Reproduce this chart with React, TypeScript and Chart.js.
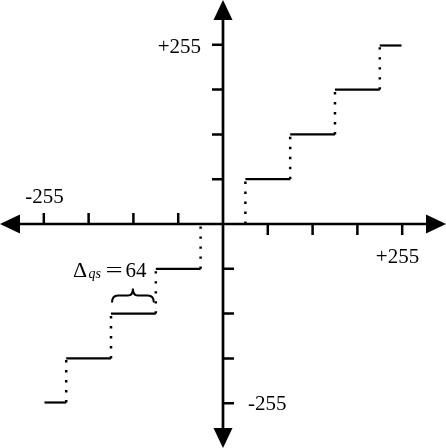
import React, { useEffect, useRef } from "react"
import { Chart, ChartConfiguration, Plugin, registerables } from "chart.js"

Chart.register(...registerables)

// quantizer: input edges and the output level held between two edges
const stepEdges = [-255, -224, -160, -96, -32, 32, 96, 160, 224, 255]
const stepLevels = [-255, -192, -128, -64, 0, 64, 128, 192, 255]
const tickValues = [-256, -192, -128, -64, 64, 128, 192, 256]
const axisLimit = 255
const deltaQs = 64
const braceStep = 2 // index of the step that gets the brace

const stepPoints: { x: number; y: number }[] = []
stepLevels.forEach((level, i) => {
	stepPoints.push({ x: stepEdges[i], y: level })
	stepPoints.push({ x: stepEdges[i + 1], y: level })
})

const FONT = "'Liberation Serif', 'Times New Roman', serif"

function arrowHead(ctx: CanvasRenderingContext2D, tipX: number, tipY: number, dx: number, dy: number) {
	const len = 20
	const half = 9.5
	const bx = tipX - dx * len
	const by = tipY - dy * len
	ctx.beginPath()
	ctx.moveTo(tipX, tipY)
	ctx.lineTo(bx - dy * half, by + dx * half)
	ctx.lineTo(bx + dy * half, by - dx * half)
	ctx.closePath()
	ctx.fill()
}

const axesPlugin: Plugin = {
	id: "quantAxes",
	beforeDatasetsDraw(chart) {
		const { ctx, chartArea, scales } = chart
		const x0 = scales.x.getPixelForValue(0)
		const y0 = scales.y.getPixelForValue(0)
		ctx.save()
		ctx.strokeStyle = "#000"
		ctx.fillStyle = "#000"
		ctx.lineWidth = 2.7

		// axis lines
		ctx.beginPath()
		ctx.moveTo(chartArea.left + 18, y0)
		ctx.lineTo(chartArea.right - 18, y0)
		ctx.moveTo(x0, chartArea.top + 18)
		ctx.lineTo(x0, chartArea.bottom - 18)
		ctx.stroke()

		arrowHead(ctx, chartArea.left, y0, -1, 0)
		arrowHead(ctx, chartArea.right, y0, 1, 0)
		arrowHead(ctx, x0, chartArea.top, 0, -1)
		arrowHead(ctx, x0, chartArea.bottom, 0, 1)

		// ticks sit on the side away from the staircase
		ctx.lineWidth = 2.5
		ctx.beginPath()
		tickValues.forEach((v) => {
			const px = scales.x.getPixelForValue(v)
			ctx.moveTo(px, y0)
			ctx.lineTo(px, v > 0 ? y0 + 11 : y0 - 11)
			const py = scales.y.getPixelForValue(v)
			ctx.moveTo(x0, py)
			ctx.lineTo(v > 0 ? x0 - 11 : x0 + 11, py)
		})
		ctx.stroke()
		ctx.restore()
	},
	afterDatasetsDraw(chart) {
		const { ctx, scales } = chart
		const x0 = scales.x.getPixelForValue(0)
		const y0 = scales.y.getPixelForValue(0)
		ctx.save()
		ctx.fillStyle = "#000"
		ctx.strokeStyle = "#000"
		ctx.font = `21px ${FONT}`
		ctx.textBaseline = "alphabetic"

		// axis limit labels
		ctx.textAlign = "right"
		ctx.fillText(`+${axisLimit}`, x0 - 22, scales.y.getPixelForValue(axisLimit) + 7)
		ctx.textAlign = "left"
		ctx.fillText(`-${axisLimit}`, x0 + 25, scales.y.getPixelForValue(-axisLimit) + 7)
		ctx.textAlign = "center"
		ctx.fillText(`-${axisLimit}`, scales.x.getPixelForValue(-axisLimit), y0 - 21)
		ctx.fillText(`+${axisLimit}`, scales.x.getPixelForValue(axisLimit) - 4, y0 + 39)

		// brace over one step width
		const L = scales.x.getPixelForValue(stepEdges[braceStep]) + 1
		const R = scales.x.getPixelForValue(stepEdges[braceStep + 1]) - 2
		const M = (L + R) / 2
		const yb = scales.y.getPixelForValue(stepLevels[braceStep]) - 18
		ctx.lineWidth = 2
		ctx.beginPath()
		ctx.moveTo(L, yb + 7)
		ctx.quadraticCurveTo(L, yb, L + 6, yb)
		ctx.lineTo(M - 5, yb)
		ctx.quadraticCurveTo(M, yb, M, yb - 7)
		ctx.quadraticCurveTo(M, yb, M + 5, yb)
		ctx.lineTo(R - 6, yb)
		ctx.quadraticCurveTo(R, yb, R, yb + 7)
		ctx.stroke()

		// Δqs=64 label
		const ax = L - 39
		const base = yb - 19
		ctx.textAlign = "left"
		ctx.font = `22px ${FONT}`
		ctx.fillText("Δ", ax, base)
		ctx.font = `italic 14px ${FONT}`
		ctx.fillText("qs", ax + 15.5, base + 1.5)
		ctx.font = `21px ${FONT}`
		ctx.save()
		ctx.translate(ax + 32.5, base)
		ctx.scale(1.45, 1)
		ctx.fillText("=", 0, 0)
		ctx.restore()
		ctx.fillText(String(deltaQs), ax + 52.5, base)
		ctx.restore()
	},
}

export default function App() {
	const chartRef = useRef<HTMLCanvasElement | null>(null)
	const chartInstance = useRef<Chart | null>(null)

	useEffect(() => {
		if (chartInstance.current) {
			chartInstance.current.destroy()
		}
		if (!chartRef.current) return
		const ctx = chartRef.current.getContext("2d")
		if (!ctx) return

		const config: ChartConfiguration = {
			type: "scatter",
			data: {
				datasets: [
					{
						data: stepPoints,
						showLine: true,
						borderColor: "#000",
						backgroundColor: "#000",
						borderWidth: 2.2,
						borderCapStyle: "butt",
						pointRadius: 0,
						pointHoverRadius: 0,
						segment: {
							// vertical risers dotted, the zero level left out
							borderDash: (c) => (c.p0.parsed.x === c.p1.parsed.x ? [2.4, 7.6] : undefined),
							borderWidth: (c) => (c.p0.parsed.x === c.p1.parsed.x ? 2.5 : undefined),
							borderColor: (c) =>
								c.p0.parsed.y === 0 && c.p1.parsed.y === 0 ? "rgba(0,0,0,0)" : undefined,
						},
					},
				],
			},
			options: {
				animation: false,
				responsive: false,
				layout: { padding: 0 },
				plugins: {
					legend: { display: false },
					tooltip: { enabled: false },
				},
				scales: {
					x: { type: "linear", min: -318.6, max: 318.6, display: false },
					y: { type: "linear", min: -320, max: 320, display: false },
				},
			},
			plugins: [axesPlugin],
		}

		chartInstance.current = new Chart(ctx, config)

		return () => {
			if (chartInstance.current) {
				chartInstance.current.destroy()
				chartInstance.current = null
			}
		}
	}, [])

	return (
		<div style={{ position: "absolute", left: 0, top: 0, width: 446, height: 448, background: "#fff" }}>
			<canvas ref={chartRef} width={446} height={448}></canvas>
		</div>
	)
}
